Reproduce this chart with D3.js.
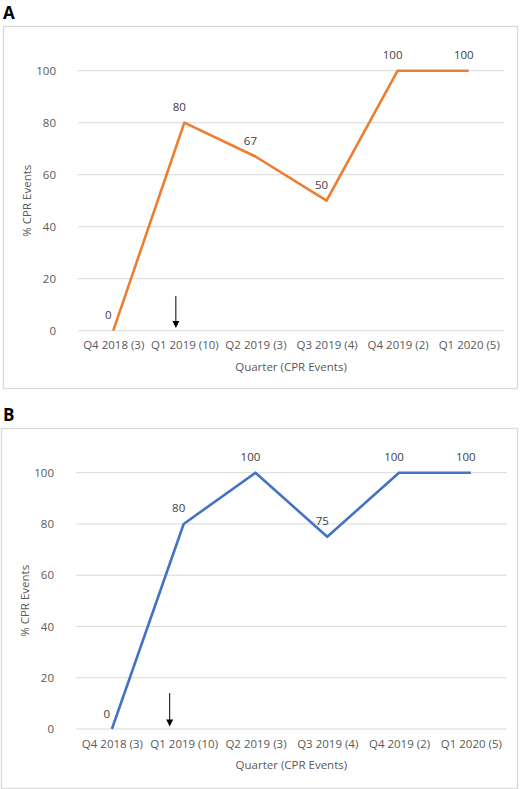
<!DOCTYPE html>
<html>
<head>
<meta charset="utf-8">
<script src="https://cdn.jsdelivr.net/npm/d3@7"></script>
<style>
  body { margin: 0; background: #fff; }
  text { font-family: "Open Sans", "Noto Sans", sans-serif; }
</style>
</head>
<body>
<div id="chart"></div>
<script>
// data
var quarters = ["Q4 2018 (3)", "Q1 2019 (10)", "Q2 2019 (3)", "Q3 2019 (4)", "Q4 2019 (2)", "Q1 2020 (5)"];
var valuesA = [0, 80, 67, 50, 100, 100];
var valuesB = [0, 80, 100, 75, 100, 100];
var yTicks = [0, 20, 40, 60, 80, 100];
var arrowQuarter = "Q1 2019 (10)";

var fontSize = 11.5;

var svg = d3.select("#chart")
  .append("svg")
  .attr("width", 520)
  .attr("height", 789);

// one panel = box + plot area
function drawPanel(opts) {
  var g = svg.append("g");

  // panel letter
  g.append("text")
    .attr("x", opts.letterX)
    .attr("y", opts.letterY)
    .attr("font-family", "Liberation Sans, Arial, sans-serif")
    .attr("font-weight", "bold")
    .attr("font-size", 17)
    .attr("fill", "#000")
    .text(opts.letter);

  // outer chart border
  g.append("rect")
    .attr("x", opts.box[0] + 0.5)
    .attr("y", opts.box[1] + 0.5)
    .attr("width", opts.box[2])
    .attr("height", opts.box[3])
    .attr("fill", "#fff")
    .attr("stroke", "#d9d9d9")
    .attr("stroke-width", 1.3);

  var x = d3.scalePoint()
    .domain(quarters)
    .range([opts.left, opts.right])
    .padding(0.5);

  var y = d3.scaleLinear()
    .domain([0, 100])
    .range([opts.bottom, opts.top]);

  // gridlines
  g.append("g")
    .selectAll("line")
    .data(yTicks)
    .enter()
    .append("line")
    .attr("x1", opts.left)
    .attr("x2", opts.right)
    .attr("y1", d => y(d))
    .attr("y2", d => y(d))
    .attr("stroke", "#d9d9d9")
    .attr("stroke-width", 1);

  // y axis labels (no domain / ticks, Excel style)
  var leftAxis = d3.axisLeft(y).tickValues(yTicks).tickSize(0).tickPadding(0);
  var yAxis = g.append("g")
    .attr("transform", `translate(${opts.yLabelRight}, 0)`)
    .call(leftAxis);
  yAxis.select(".domain").remove();
  yAxis.selectAll("text")
    .attr("font-family", "Open Sans, sans-serif")
    .attr("font-size", fontSize)
    .attr("fill", "#595959");

  // x axis labels
  var bottomAxis = d3.axisBottom(x).tickSize(0).tickPadding(0);
  var xAxis = g.append("g")
    .attr("transform", `translate(0, ${opts.bottom + 10.5})`)
    .call(bottomAxis);
  xAxis.select(".domain").remove();
  xAxis.selectAll("text")
    .attr("font-family", "Open Sans, sans-serif")
    .attr("font-size", fontSize)
    .attr("fill", "#595959");

  // axis titles
  g.append("text")
    .attr("x", (opts.left + opts.right) / 2)
    .attr("y", opts.bottom + 40)
    .attr("text-anchor", "middle")
    .attr("font-size", fontSize)
    .attr("fill", "#595959")
    .text("Quarter (CPR Events)");

  g.append("text")
    .attr("transform", `rotate(-90)`)
    .attr("x", -(opts.top + opts.bottom) / 2)
    .attr("y", opts.yTitleX)
    .attr("text-anchor", "middle")
    .attr("font-size", fontSize)
    .attr("fill", "#595959")
    .text("% CPR Events");

  // the line
  var line = d3.line()
    .x((d, i) => x(quarters[i]))
    .y(d => y(d));

  g.append("path")
    .datum(opts.values)
    .attr("d", line)
    .attr("fill", "none")
    .attr("stroke", opts.color)
    .attr("stroke-width", 2.6)
    .attr("stroke-linejoin", "round");

  // data labels
  g.append("g")
    .selectAll("text")
    .data(opts.values)
    .enter()
    .append("text")
    .attr("x", (d, i) => x(quarters[i]) - 5)
    .attr("y", d => y(d) - 11.5)
    .attr("text-anchor", "middle")
    .attr("font-size", fontSize)
    .attr("fill", "#404040")
    .text(d => d);

  // arrow annotation
  var ax = x(arrowQuarter) + opts.arrowDx;
  g.append("line")
    .attr("x1", ax)
    .attr("x2", ax)
    .attr("y1", y(opts.arrowFrom))
    .attr("y2", y(1) - 6)
    .attr("stroke", "#000")
    .attr("stroke-width", 1);
  var tip = y(1);
  g.append("path")
    .attr("d", `M${ax - 3.5},${tip - 7}L${ax + 3.5},${tip - 7}L${ax},${tip}Z`)
    .attr("fill", "#000");
}

drawPanel({
  letter: "A", letterX: 3, letterY: 19,
  box: [3, 26, 514, 362],
  left: 77.7, right: 504.3, top: 70.7, bottom: 330.7,
  yLabelRight: 56, yTitleX: 31,
  values: valuesA, color: "#ed7d31",
  arrowDx: -8.5, arrowFrom: 13.3
});

drawPanel({
  letter: "B", letterX: 3, letterY: 421,
  box: [1, 428, 516, 360],
  left: 76, right: 506.7, top: 472.7, bottom: 729,
  yLabelRight: 54, yTitleX: 29,
  values: valuesB, color: "#4472c4",
  arrowDx: -14, arrowFrom: 14
});
</script>
</body>
</html>
